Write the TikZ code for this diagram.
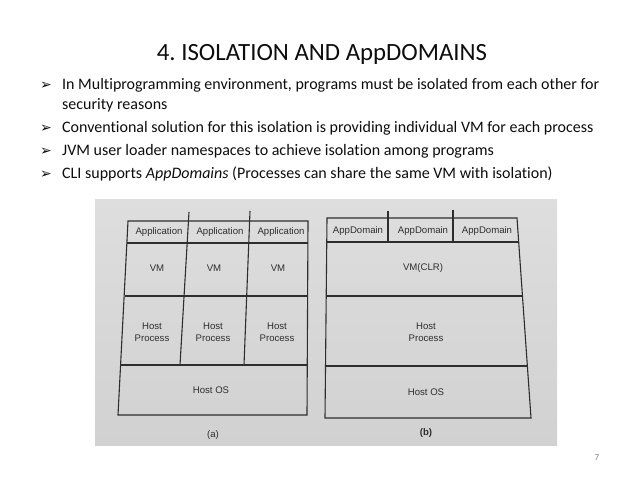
\documentclass[tikz,border=0pt]{standalone}
\usepackage{fontspec}
\setmainfont{Carlito}[Ligatures=NoCommon]
\newfontfamily\figfont{Liberation Sans}
\newfontfamily\symfont{DejaVu Sans}
\usetikzlibrary{positioning}
\definecolor{photoTop}{gray}{0.87}
\definecolor{photoGray}{gray}{0.82}
\definecolor{inkGray}{gray}{0.18}
\definecolor{textBlack}{gray}{0.05}
\frenchspacing

\begin{document}
\begin{tikzpicture}[x=1bp, y=-1bp,
    bullet/.style={anchor=base west, inner sep=0, font=\fontsize{16bp}{19bp}\selectfont, text=textBlack},
    arrowmark/.style={anchor=base west, inner sep=0, font=\symfont\fontsize{14bp}{16bp}\selectfont, text=textBlack},
    layer/.style={inner sep=0, align=center, font=\figfont\fontsize{9.6bp}{11.5bp}\selectfont, text=inkGray},
    box/.style={draw=inkGray, line width=1.1bp}]
    \useasboundingbox (0,0) rectangle (638,478);

    % Title and bullets
    \node[anchor=base, inner sep=0, font=\fontsize{24.8bp}{29bp}\selectfont, text=textBlack] (title) at (322,61) {4. ISOLATION AND AppDOMAINS};
    \node[arrowmark] (m1) at (40,90) {➢};
    \node[bullet] (t1) at (62,90) {In Multiprogramming environment, programs must be isolated from each other for};
    \node[bullet] (t1b) at (62,110) {security reasons};
    \node[arrowmark] (m2) at (40,133) {➢};
    \node[bullet] (t2) at (62,133) {Conventional solution for this isolation is providing individual VM for each process};
    \node[arrowmark] (m3) at (40,156) {➢};
    \node[bullet] (t3) at (62,156) {JVM user loader namespaces to achieve isolation among programs};
    \node[arrowmark] (m4) at (40,179) {➢};
    \node[bullet] (t4) at (62,179) {CLI supports \textit{AppDomains} (Processes can share the same VM with isolation)};

    % Photo
    \shade[top color=photoTop, bottom color=photoGray] (95,200) rectangle (557,445);

    % (a) one VM per process
    \coordinate (aTL) at (128,221);
    \coordinate (aTR) at (308,221);
    \coordinate (aBR) at (307,415);
    \coordinate (aBL) at (118,415);
    \draw[box] (aTL)--(aTR)--(aBR)--(aBL)--cycle;
    \draw[box] (127,243)--(308,243);
    \draw[box] (125,296)--(308,296);
    \draw[box] (121,365)--(307,365);
    \draw[box] (189,212)--(180,365);
    \draw[box] (250,211)--(244,365);

    \node[layer] (app1) at (159,232) {Application};
    \node[layer] (app2) at (220,232) {Application};
    \node[layer] (app3) at (281,232) {Application};
    \node[layer] (vm1) at (157,268) {VM};
    \node[layer] (vm2) at (214,268) {VM};
    \node[layer] (vm3) at (278,268) {VM};
    \node[layer] (hp1) at (152,332) {Host\\Process};
    \node[layer] (hp2) at (213,332) {Host\\Process};
    \node[layer] (hp3) at (277,332) {Host\\Process};
    \node[layer] (osA) at (211,390) {Host OS};
    \node[layer] (capA) at (213,435) {(a)};

    % (b) one VM, several AppDomains
    \coordinate (bTL) at (327,218);
    \coordinate (bTR) at (517,218);
    \coordinate (bBR) at (531,418);
    \coordinate (bBL) at (325,418);
    \draw[box] (bTL)--(bTR)--(bBR)--(bBL)--cycle;
    \draw[box] (327,242)--(518,242);
    \draw[box] (326,296)--(522,296);
    \draw[box] (325,366)--(528,366);
    \draw[box] (388,211)--(388,242);
    \draw[box] (453,210)--(453,242);

    \node[layer] (dom1) at (358,231) {AppDomain};
    \node[layer] (dom2) at (423,231) {AppDomain};
    \node[layer] (dom3) at (487,231) {AppDomain};
    \node[layer] (clr) at (423,268) {VM(CLR)};
    \node[layer] (hpB) at (426,332) {Host\\Process};
    \node[layer] (osB) at (426,392) {Host OS};
    \node[layer, font=\figfont\bfseries\fontsize{9.6bp}{11.5bp}\selectfont] (capB) at (426,433) {(b)};

    \node[anchor=base, inner sep=0, font=\fontsize{9bp}{11bp}\selectfont, text=gray] (page) at (597,460) {7};
\end{tikzpicture}
\end{document}
